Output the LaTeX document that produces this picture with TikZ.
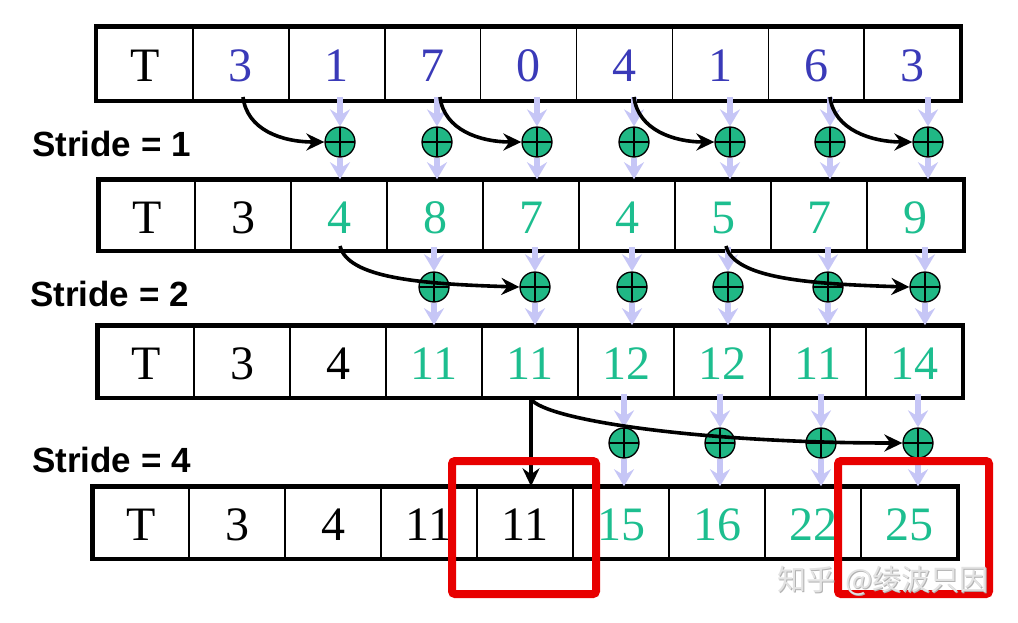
\documentclass[tikz,border=0pt]{standalone}
\usepackage{fontspec}
\setmainfont{Liberation Serif}
\newfontfamily\labelfont{Liberation Sans}
\newfontfamily\cjkfont{Noto Sans CJK SC}
\usetikzlibrary{arrows.meta}
\definecolor{numblue}{RGB}{58,58,184}
\definecolor{numgreen}{RGB}{29,190,143}
\definecolor{plusgreen}{RGB}{32,184,133}
\definecolor{flowblue}{RGB}{198,198,246}
\definecolor{boxred}{RGB}{232,0,0}
\tikzset{
  cell/.style={draw=black, line width=1.5pt, minimum width=96pt, minimum height=#1,
    inner sep=0pt, font=\fontsize{48}{48}\selectfont, text height=36pt, text depth=0pt},
  rowframe/.style={draw=black, line width=4.5pt},
  plus/.style={circle, draw=black, line width=1.3pt, fill=plusgreen, minimum size=30pt,
    inner sep=0pt, path picture={\draw[line width=1.3pt]
      (path picture bounding box.north) -- (path picture bounding box.south)
      (path picture bounding box.west) -- (path picture bounding box.east);}},
  flow/.style={draw=flowblue, line width=5.5pt, -{Stealth[length=17pt,width=20pt,inset=6pt]}},
  curve/.style={draw=black, line width=3.6pt, -{Stealth[length=18pt,width=17pt,inset=6pt]}},
  stridelabel/.style={anchor=base west, inner sep=0pt, font=\labelfont\bfseries\fontsize{35}{35}\selectfont},
  redbox/.style={draw=boxred, line width=8pt, rounded corners=3pt},
  wmtext/.style={anchor=base west, inner sep=0pt, font=\cjkfont\fontsize{29}{29}\selectfont}
}
\begin{document}
\begin{tikzpicture}[x=1pt,y=-1pt]
\useasboundingbox (0,0) rectangle (1018,622);
\fill[white] (0,0) rectangle (1018,622);

% ---- rows ----
\foreach \t/\c [count=\k from 0] in {T/black,3/numblue,1/numblue,7/numblue,0/numblue,4/numblue,1/numblue,6/numblue,3/numblue}
  \node[cell=73pt, text=\c] (r1c\k) at ({97+95.9*(\k+0.5)},63.5) {\t};
\draw[rowframe] (r1c0.north west) rectangle (r1c8.south east);

\foreach \t/\c [count=\k from 0] in {T/black,3/black,4/numgreen,8/numgreen,7/numgreen,4/numgreen,5/numgreen,7/numgreen,9/numgreen}
  \node[cell=70pt, text=\c] (r2c\k) at ({99+96*(\k+0.5)},215) {\t};
\draw[rowframe] (r2c0.north west) rectangle (r2c8.south east);

\foreach \t/\c [count=\k from 0] in {T/black,3/black,4/black,11/numgreen,11/numgreen,12/numgreen,12/numgreen,11/numgreen,14/numgreen}
  \node[cell=71pt, text=\c] (r3c\k) at ({98+96*(\k+0.5)},361.5) {\t};
\draw[rowframe] (r3c0.north west) rectangle (r3c8.south east);

\foreach \t/\c [count=\k from 0] in {T/black,3/black,4/black,11/black,11/black,15/numgreen,16/numgreen,22/numgreen,25/numgreen}
  \node[cell=71pt, text=\c] (r4c\k) at ({93+96*(\k+0.5)},522.5) {\t};
\draw[rowframe] (r4c0.north west) rectangle (r4c8.south east);

% ---- stride labels ----
\node[stridelabel] (l1) at (32,156) {Stride = 1};
\node[stridelabel] (l2) at (30,306) {Stride = 2};
\node[stridelabel] (l4) at (32,472) {Stride = 4};

% ---- adders ----
\foreach \x [count=\k from 2] in {340,437,537,634,730,830,928}
  \node[plus] (s1c\k) at (\x,142) {};
\foreach \x [count=\k from 3] in {434,535,632,728,828,925}
  \node[plus] (s2c\k) at (\x,287) {};
\foreach \x [count=\k from 5] in {624,720,821,918}
  \node[plus] (s4c\k) at (\x,443) {};

% ---- light flow arrows ----
\foreach \k in {2,...,8}{
  \draw[flow] ([yshift=4pt]s1c\k |- r1c\k.south) -- (s1c\k.north);
  \draw[flow] (s1c\k.south) -- (s1c\k |- r2c\k.north);
}
\foreach \k in {3,...,8}{
  \draw[flow] ([yshift=4pt]s2c\k |- r2c\k.south) -- (s2c\k.north);
  \draw[flow] (s2c\k.south) -- (s2c\k |- r3c\k.north);
}
\foreach \k in {5,...,8}{
  \draw[flow] ([yshift=4pt]s4c\k |- r3c\k.south) -- (s4c\k.north);
  \draw[flow] (s4c\k.south) -- (s4c\k |- r4c\k.north);
}

% ---- black carry curves ----
\coordinate (a1) at (243,97);
\coordinate (a3) at (440,97);
\coordinate (a5) at (634,97);
\coordinate (a7) at (830,97);
\draw[curve] (a1) .. controls (247,130) and (282,142) .. (s1c2.west);
\draw[curve] (a3) .. controls (444,130) and (480,142) .. (s1c4.west);
\draw[curve] (a5) .. controls (638,130) and (674,142) .. (s1c6.west);
\draw[curve] (a7) .. controls (834,130) and (872,142) .. (s1c8.west);

\coordinate (b2) at (340,246);
\coordinate (b6) at (726,246);
\draw[curve] (b2) .. controls (348,278) and (420,284) .. (s2c4.west);
\draw[curve] (b6) .. controls (734,278) and (806,284) .. (s2c8.west);

\coordinate (c4) at (531,399);
\draw[curve] (c4) .. controls (545,420) and (700,443) .. (s4c8.west);
\draw[curve] (c4) -- (c4 |- r4c4.north);

% ---- highlight boxes ----
\draw[redbox] (452,461) rectangle (596,594);
\draw[redbox] (838,461) rectangle (989,594);

% ---- watermark ----
\node[wmtext, text=gray!60] (wm2) at (778,591) {知乎\hspace{10pt}@绫波只因};
\node[wmtext, text=gray!22] (wm) at (777,590) {知乎\hspace{10pt}@绫波只因};
\end{tikzpicture}
\end{document}
